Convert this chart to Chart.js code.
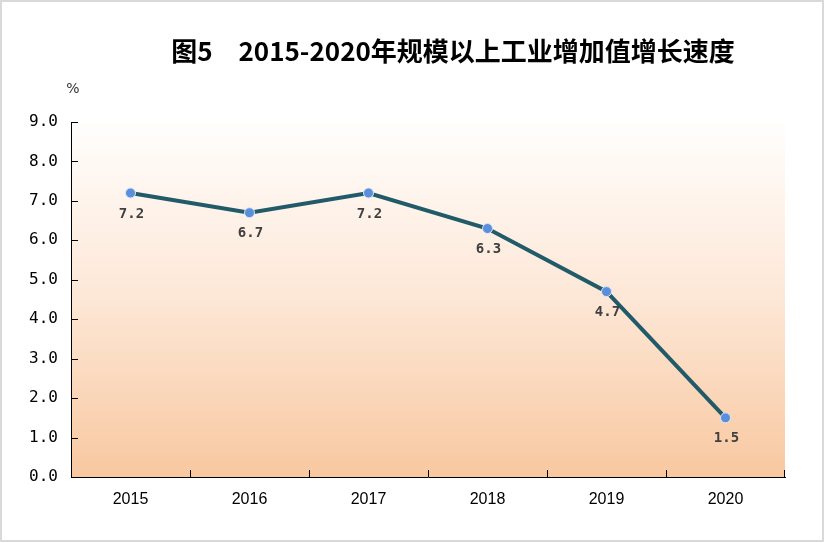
<!DOCTYPE html>
<html lang="zh">
<head>
<meta charset="utf-8">
<title>图5 2015-2020年规模以上工业增加值增长速度</title>
<script src="https://cdn.jsdelivr.net/npm/chart.js@4/dist/chart.umd.min.js"></script>
<style>
    html, body { margin: 0; padding: 0; background: #fff; }
    #chart { display: block; }
</style>
</head>
<body>
<canvas id="chart" width="825" height="543"></canvas>
<script>
// Dados do gráfico
const years = ['2015', '2016', '2017', '2018', '2019', '2020'];
const growthRate = [7.2, 6.7, 7.2, 6.3, 4.7, 1.5];
const yTicks = [0, 1, 2, 3, 4, 5, 6, 7, 8, 9];
const chartTitle = '图5\u30002015-2020年规模以上工业增加值增长速度';
const unitLabel = '%';

// Fundo em degradê, moldura, título e unidade
const backgroundPlugin = {
    id: 'background',
    beforeDraw(chart) {
        const { ctx, chartArea } = chart;
        ctx.save();
        ctx.fillStyle = '#ffffff';
        ctx.fillRect(0, 0, chart.width, chart.height);

        const grad = ctx.createLinearGradient(0, chartArea.top, 0, chartArea.bottom);
        grad.addColorStop(0, '#fffefd');
        grad.addColorStop(0.5, '#fde7d6');
        grad.addColorStop(1, '#f8c8a0');
        ctx.fillStyle = grad;
        ctx.fillRect(chartArea.left, chartArea.top, chartArea.right - chartArea.left, chartArea.bottom - chartArea.top);

        // moldura cinza
        ctx.strokeStyle = '#d9d9d9';
        ctx.lineWidth = 2;
        ctx.strokeRect(1, 1, chart.width - 3, chart.height - 3);

        // título
        ctx.fillStyle = '#000000';
        ctx.font = 'bold 26px "Noto Sans CJK SC", sans-serif';
        ctx.textAlign = 'center';
        ctx.textBaseline = 'middle';
        ctx.fillText(chartTitle, 453, 51);

        // unidade
        ctx.fillStyle = '#333333';
        ctx.font = '14px "DejaVu Sans", sans-serif';
        ctx.fillText(unitLabel, chartArea.left + 2, 89);
        ctx.restore();
    }
};

// Marcas de escala voltadas para dentro e rótulos dos valores
const decorPlugin = {
    id: 'decor',
    afterDatasetsDraw(chart) {
        const { ctx, chartArea, scales } = chart;
        const x = scales.x;
        const y = scales.y;
        ctx.save();
        ctx.strokeStyle = '#000000';
        ctx.lineWidth = 1;
        ctx.beginPath();
        yTicks.forEach(v => {
            const py = Math.round(y.getPixelForValue(v)) + 0.5;
            ctx.moveTo(chartArea.left, py);
            ctx.lineTo(chartArea.left + 7, py);
        });
        for (let i = 1; i <= years.length; i++) {
            const bx = i < years.length
                ? Math.round((x.getPixelForValue(i - 1) + x.getPixelForValue(i)) / 2) + 0.5
                : Math.round(chartArea.right) - 0.5;
            ctx.moveTo(bx, chartArea.bottom);
            ctx.lineTo(bx, chartArea.bottom - 7);
        }
        ctx.stroke();

        // rótulos dos pontos
        const meta = chart.getDatasetMeta(0);
        ctx.fillStyle = '#404040';
        ctx.font = 'bold 14px "DejaVu Sans Mono", monospace';
        ctx.textAlign = 'center';
        ctx.textBaseline = 'middle';
        meta.data.forEach((pt, i) => {
            ctx.fillText(growthRate[i].toFixed(1), pt.x + 1, pt.y + 21);
        });
        ctx.restore();
    }
};

const ctx = document.getElementById('chart').getContext('2d');
new Chart(ctx, {
    type: 'line',
    data: {
        labels: years,
        datasets: [{
            data: growthRate,
            borderColor: '#215a68',
            borderWidth: 4,
            pointRadius: 5,
            pointBackgroundColor: '#5b8fdb',
            pointBorderColor: '#dce7f7',
            pointBorderWidth: 1,
            tension: 0,
            fill: false
        }]
    },
    options: {
        responsive: false,
        animation: false,
        devicePixelRatio: 1,
        layout: {
            padding: { top: 122, right: 40, bottom: 0, left: 0 }
        },
        plugins: {
            legend: { display: false },
            title: { display: false },
            tooltip: { enabled: false }
        },
        scales: {
            x: {
                type: 'category',
                offset: true,
                grid: { display: true, drawOnChartArea: false, drawTicks: false },
                border: { display: true, color: '#000000', width: 1 },
                ticks: {
                    color: '#000000',
                    padding: 13,
                    font: { family: '"Liberation Sans", Arial, sans-serif', size: 16 }
                },
                afterFit(scale) { scale.height = 66; }
            },
            y: {
                min: 0,
                max: 9,
                grid: { display: true, drawOnChartArea: false, drawTicks: false },
                border: { display: true, color: '#000000', width: 1 },
                ticks: {
                    stepSize: 1,
                    color: '#000000',
                    padding: 13,
                    font: { family: '"DejaVu Sans Mono", monospace', size: 16 },
                    callback: value => value.toFixed(1)
                },
                afterFit(scale) { scale.width = 71; }
            }
        }
    },
    plugins: [backgroundPlugin, decorPlugin]
});
</script>
</body>
</html>
